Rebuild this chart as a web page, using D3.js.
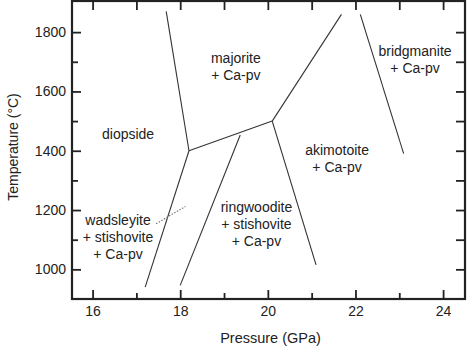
<!DOCTYPE html>
<html>
<head>
<meta charset="utf-8">
<script src="https://cdn.jsdelivr.net/npm/d3@7"></script>
<style>
  body { margin: 0; background: #fff; }
  svg text { font-family: "Liberation Sans", Arial, sans-serif; fill: #222; }
</style>
</head>
<body>
<div id="chart"></div>
<script>
// Axis ticks
const xMajor = [16, 18, 20, 22, 24];
const xMinor = [17, 19, 21, 23];
const yMajor = [1000, 1200, 1400, 1600, 1800];
const yMinor = [1100, 1300, 1500, 1700];

// Phase boundaries (pressure GPa, temperature °C)
const boundaries = [
    [[17.68, 1870], [18.2, 1400]],
    [[18.2, 1400], [17.2, 940]],
    [[18.2, 1400], [20.1, 1500]],
    [[19.37, 1453], [18.0, 946]],
    [[20.1, 1500], [21.1, 1015]],
    [[20.1, 1500], [21.68, 1860]],
    [[22.11, 1860], [23.1, 1390]]
];
const dottedBoundary = [[17.45, 1154], [18.12, 1212]];

// Field labels
const fieldNames = [
    ["majorite", "+ Ca-pv"],
    ["bridgmanite", "+ Ca-pv"],
    ["diopside"],
    ["akimotoite", "+ Ca-pv"],
    ["ringwoodite", "+ stishovite", "+ Ca-pv"],
    ["wadsleyite", "+ stishovite", "+ Ca-pv"]
];
const fieldP = [19.27, 23.36, 16.81, 21.58, 19.74, 16.58];
const fieldT = [1697, 1720, 1438, 1384, 1192, 1148];

const width = 474, height = 353;
const margin = {top: 1, right: 9, bottom: 54, left: 72};

const svg = d3.select('#chart').append('svg')
    .attr('width', width)
    .attr('height', height);

const x = d3.scaleLinear().domain([15.53, 24.5]).range([margin.left, width - margin.right]);
const y = d3.scaleLinear().domain([900, 1905]).range([height - margin.bottom, margin.top]);

const x0 = margin.left, x1 = width - margin.right;
const y0 = height - margin.bottom, y1 = margin.top;

// axes with inward ticks
function styleAxis(g) {
    g.select('.domain').remove();
    g.selectAll('line').attr('stroke', '#222').attr('stroke-width', 1.8);
    g.selectAll('text').attr('font-size', 14).style('font-family', '"Liberation Sans", Arial, sans-serif').attr('fill', '#222');
}

svg.append('g').attr('transform', `translate(0,${y0})`)
    .call(d3.axisBottom(x).tickValues(xMajor).tickSize(-9).tickPadding(7).tickFormat(d3.format('d')))
    .call(styleAxis);
svg.append('g').attr('transform', `translate(0,${y0})`)
    .call(d3.axisBottom(x).tickValues(xMinor).tickSize(-6).tickFormat(''))
    .call(styleAxis);
svg.append('g').attr('transform', `translate(0,${y1})`)
    .call(d3.axisTop(x).tickValues(xMajor.concat(xMinor)).tickSize(-9).tickFormat(''))
    .call(styleAxis);

svg.append('g').attr('transform', `translate(${x0},0)`)
    .call(d3.axisLeft(y).tickValues(yMajor).tickSize(-9).tickPadding(6).tickFormat(d3.format('d')))
    .call(styleAxis);
svg.append('g').attr('transform', `translate(${x0},0)`)
    .call(d3.axisLeft(y).tickValues(yMinor).tickSize(-6).tickFormat(''))
    .call(styleAxis);
svg.append('g').attr('transform', `translate(${x1},0)`)
    .call(d3.axisRight(y).tickValues(yMajor.concat(yMinor)).tickSize(-9).tickFormat(''))
    .call(styleAxis);

// frame
svg.append('rect')
    .attr('x', x0).attr('y', y1)
    .attr('width', x1 - x0).attr('height', y0 - y1)
    .attr('fill', 'none').attr('stroke', '#222').attr('stroke-width', 2.2);

// boundaries
const line = d3.line().x(d => x(d[0])).y(d => y(d[1]));
svg.selectAll('.boundary')
    .data(boundaries)
    .enter().append('path')
    .attr('class', 'boundary')
    .attr('d', line)
    .attr('fill', 'none')
    .attr('stroke', '#333')
    .attr('stroke-width', 1.1);

svg.append('path')
    .attr('d', line(dottedBoundary))
    .attr('fill', 'none')
    .attr('stroke', '#777')
    .attr('stroke-width', 1.2)
    .attr('stroke-dasharray', '1.5,1.5');

// field labels
fieldNames.forEach((lines, i) => {
    const t = svg.append('text')
        .attr('text-anchor', 'middle')
        .attr('font-size', 14)
        .attr('x', x(fieldP[i]))
        .attr('y', y(fieldT[i]));
    lines.forEach((s, j) => {
        t.append('tspan')
            .attr('x', x(fieldP[i]))
            .attr('dy', j ? 17 : 0)
            .text(s);
    });
});

// axis titles
svg.append('text')
    .attr('x', (x0 + x1) / 2 + 2)
    .attr('y', 343)
    .attr('text-anchor', 'middle')
    .attr('font-size', 14.5)
    .text('Pressure (GPa)');

svg.append('text')
    .attr('transform', `translate(18,147) rotate(-90)`)
    .attr('text-anchor', 'middle')
    .attr('font-size', 14)
    .text('Temperature (°C)');
</script>
</body>
</html>
